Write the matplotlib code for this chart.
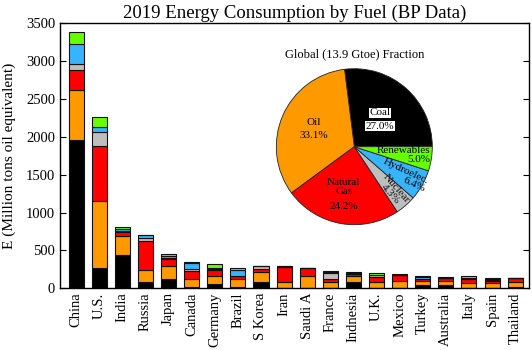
import numpy as np
import matplotlib
matplotlib.use("Agg")
import matplotlib.pyplot as plt

plt.rcParams['font.family'] = ['Liberation Serif', 'DejaVu Serif']
plt.rcParams['mathtext.fontset'] = 'stix'

countries = ["China", "U.S.", "India", "Russia", "Japan", "Canada", "Germany",
             "Brazil", "S Korea", "Iran", "Saudi A", "France", "Indnesia", "U.K.",
             "Mexico", "Turkey", "Australia", "Italy", "Spain", "Thailand"]

# Million tons oil equivalent, 2019
coal  = [1950, 271, 445, 87, 117, 14, 55, 15, 82, 1, 0, 5, 81, 5, 10, 41, 43, 5, 4, 19]
oil   = [666, 883, 245, 153, 180, 112, 113, 111, 127, 88, 158, 75, 77, 72, 83, 50, 52, 60, 66, 69]
gas   = [264, 728, 51, 382, 93, 102, 76, 31, 48, 192, 106, 37, 37, 66, 80, 37, 44, 64, 31, 43]
nuclear = [74, 182, 10, 44, 14, 22, 15, 4, 31, 1, 0, 85, 0, 30, 3, 0, 0, 0, 12, 0]
hydro = [270, 58, 34, 41, 17, 87, 5, 85, 1, 7, 0, 13, 4, 1, 5, 19, 3, 10, 5, 1]
renew = [158, 139, 29, 1, 27, 11, 51, 28, 6, 0, 0, 14, 10, 33, 8, 14, 10, 20, 23, 7]

fuels = ["Coal", "Oil", "Natural\nGas", "Nuclear", "Hydroelec.", "Renewables"]
colors = ["#000000", "#FF9900", "#FF0000", "#BEBEBE", "#38B4FF", "#66FF00"]
global_share = [27.0, 33.1, 24.2, 4.3, 6.4, 5.0]

W, H = 532, 350
fig = plt.figure(figsize=(W / 100, H / 100), dpi=100)
ax = fig.add_axes([60 / W, 1 - 288.3 / H, (529 - 60) / W, (288.3 - 23) / H])

x = np.arange(len(countries))
bottom = np.zeros(len(countries))
for vals, c in zip([coal, oil, gas, nuclear, hydro, renew], colors):
    v = np.array(vals, dtype=float)
    ax.bar(x, v, width=0.65, bottom=bottom, color=c, edgecolor="#111111",
           linewidth=0.8, zorder=2)
    bottom += v

ax.set_xlim(-0.7, 19.6)
ax.set_ylim(0, 3500)
ax.set_yticks(np.arange(0, 3501, 500))
ax.set_xticks(x)
ax.set_xticklabels(countries, rotation=90, fontsize=10.5)
ax.tick_params(axis='y', direction='in', length=4, right=True, labelsize=10.5, width=0.8)
ax.tick_params(axis='x', length=0, pad=3)
ax.set_ylabel("E (Million tons oil equivalent)", fontsize=11)
ax.yaxis.set_label_coords(-0.094, 0.5)
ax.set_title("2019 Energy Consumption by Fuel (BP Data)", fontsize=13.5, pad=4)
for s in ax.spines.values():
    s.set_linewidth(1.0)

# Pie inset
cx, cy, r = 354.3, 146.7, 78
pax = fig.add_axes([(cx - r) / W, 1 - (cy + r) / H, 2 * r / W, 2 * r / H])
wedges, _ = pax.pie(global_share, colors=colors, startangle=0, counterclock=True,
                    wedgeprops=dict(edgecolor="#222222", linewidth=0.6))
pax.set_xlim(-1, 1)
pax.set_ylim(-1, 1)
pax.set_aspect('auto')
pax.axis('off')
pax.text(0, 1.18, "Global (13.9 Gtoe) Fraction", ha='center', va='center', fontsize=9)

def mid(w):
    return np.deg2rad((w.theta1 + w.theta2) / 2)

fs = 8
# Coal
a = mid(wedges[0]); px, py = 0.50 * np.cos(a), 0.50 * np.sin(a)
bb = dict(boxstyle='square,pad=0.05', fc='white', ec='none')
pax.text(px, py + 0.06, "Coal", ha='center', va='center', fontsize=fs, bbox=bb)
pax.text(px, py - 0.11, f"{global_share[0]:.1f}%", ha='center', va='center', fontsize=fs, bbox=bb)
# Oil
a = mid(wedges[1]); px, py = 0.57 * np.cos(a), 0.57 * np.sin(a)
pax.text(px, py + 0.08, "Oil", ha='center', va='center', fontsize=fs)
pax.text(px, py - 0.08, f"{global_share[1]:.1f}%", ha='center', va='center', fontsize=fs)
# Natural gas
a = mid(wedges[2]); px, py = 0.6 * np.cos(a), 0.6 * np.sin(a)
pax.text(px - 0.03, py + 0.07, "Natural\nGas", ha='center', va='center', fontsize=fs, linespacing=0.95)
pax.text(px - 0.03, py - 0.17, f"{global_share[2]:.1f}%", ha='center', va='center', fontsize=fs)
# Nuclear
a = mid(wedges[3]); px, py = 0.76 * np.cos(a), 0.76 * np.sin(a)
rot = np.rad2deg(a) - 360
pax.text(px, py, f"Nuclear\n{global_share[3]:.1f}%", ha='center', va='center',
         fontsize=fs, rotation=rot, linespacing=0.9, color="#111111")
# Hydro
a = mid(wedges[4]); px, py = 0.74 * np.cos(a), 0.74 * np.sin(a)
pax.text(px, py, f"Hydroelec.\n{global_share[4]:.1f}%", ha='center', va='center',
         fontsize=fs, rotation=-25, linespacing=0.9, multialignment='right')
# Renewables
pax.text(0.97, -0.05, "Renewables", ha='right', va='center', fontsize=fs)
pax.text(0.97, -0.16, f"{global_share[5]:.1f}%", ha='right', va='center', fontsize=fs)

fig.savefig("out.png", dpi=100)
